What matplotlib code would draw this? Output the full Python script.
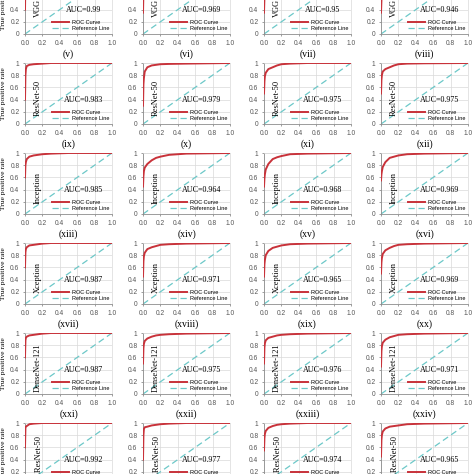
import numpy as np
import matplotlib
matplotlib.use("Agg")
import matplotlib.pyplot as plt

# --- data ---
models = ["VGG", "ResNet-50", "Inception", "Xception", "DenseNet-121", "SEResNet-50"]
captions = [
    ["(v)", "(vi)", "(vii)", "(viii)"],
    ["(ix)", "(x)", "(xi)", "(xii)"],
    ["(xiii)", "(xiv)", "(xv)", "(xvi)"],
    ["(xvii)", "(xviii)", "(xix)", "(xx)"],
    ["(xxi)", "(xxii)", "(xxiii)", "(xxiv)"],
    ["(xxv)", "(xxvi)", "(xxvii)", "(xxviii)"],
]
auc_vgg = [0.99, 0.969, 0.95, 0.946]
auc_resnet = [0.983, 0.979, 0.975, 0.975]
auc_inception = [0.985, 0.964, 0.968, 0.969]
auc_xception = [0.987, 0.971, 0.965, 0.969]
auc_densenet = [0.987, 0.975, 0.976, 0.971]
auc_seresnet = [0.992, 0.977, 0.974, 0.965]

# shared false positive rate grid, tpr per panel
fpr_pts = [0, 0.005, 0.01, 0.02, 0.05, 0.1, 0.15, 0.2, 0.3, 0.5, 1.0]
tpr_vgg = [
    [0.40, 0.90, 0.95, 0.97, 0.98, 0.99, 0.995, 1.0, 1.0, 1.0, 1.0],
    [0.35, 0.70, 0.80, 0.88, 0.92, 0.95, 0.97, 0.98, 0.99, 1.0, 1.0],
    [0.35, 0.60, 0.70, 0.80, 0.87, 0.91, 0.94, 0.96, 0.98, 0.99, 1.0],
    [0.35, 0.55, 0.68, 0.78, 0.86, 0.90, 0.93, 0.95, 0.97, 0.99, 1.0],
]
tpr_resnet = [
    [0.40, 0.80, 0.90, 0.95, 0.97, 0.98, 0.985, 0.99, 1.0, 1.0, 1.0],
    [0.30, 0.65, 0.75, 0.86, 0.93, 0.96, 0.97, 0.98, 0.985, 0.99, 1.0],
    [0.50, 0.70, 0.78, 0.84, 0.90, 0.93, 0.96, 0.98, 0.99, 1.0, 1.0],
    [0.50, 0.72, 0.80, 0.86, 0.90, 0.93, 0.96, 0.98, 0.99, 0.995, 1.0],
]
tpr_inception = [
    [0.60, 0.80, 0.85, 0.90, 0.94, 0.96, 0.97, 0.98, 0.99, 1.0, 1.0],
    [0.45, 0.62, 0.70, 0.76, 0.82, 0.88, 0.92, 0.94, 0.97, 0.99, 1.0],
    [0.45, 0.58, 0.65, 0.73, 0.82, 0.90, 0.93, 0.95, 0.98, 0.99, 1.0],
    [0.55, 0.65, 0.70, 0.77, 0.85, 0.92, 0.94, 0.96, 0.98, 0.99, 1.0],
]
tpr_xception = [
    [0.60, 0.85, 0.90, 0.93, 0.96, 0.97, 0.98, 0.99, 1.0, 1.0, 1.0],
    [0.45, 0.70, 0.78, 0.84, 0.90, 0.93, 0.95, 0.97, 0.98, 0.99, 1.0],
    [0.45, 0.65, 0.72, 0.80, 0.87, 0.92, 0.94, 0.96, 0.98, 0.99, 1.0],
    [0.50, 0.68, 0.75, 0.82, 0.88, 0.92, 0.95, 0.97, 0.98, 0.99, 1.0],
]
tpr_densenet = [
    [0.60, 0.88, 0.92, 0.94, 0.96, 0.97, 0.98, 0.99, 1.0, 1.0, 1.0],
    [0.50, 0.75, 0.82, 0.87, 0.91, 0.94, 0.96, 0.97, 0.98, 0.99, 1.0],
    [0.50, 0.76, 0.83, 0.88, 0.92, 0.94, 0.96, 0.97, 0.98, 0.99, 1.0],
    [0.45, 0.70, 0.78, 0.84, 0.89, 0.93, 0.95, 0.97, 0.98, 0.99, 1.0],
]
tpr_seresnet = [
    [0.60, 0.92, 0.94, 0.95, 0.98, 0.99, 0.995, 1.0, 1.0, 1.0, 1.0],
    [0.40, 0.80, 0.90, 0.93, 0.94, 0.96, 0.97, 0.98, 0.99, 1.0, 1.0],
    [0.55, 0.75, 0.82, 0.87, 0.92, 0.95, 0.97, 0.98, 0.99, 1.0, 1.0],
    [0.45, 0.72, 0.80, 0.86, 0.91, 0.94, 0.95, 0.96, 0.98, 0.99, 1.0],
]

aucs = [auc_vgg, auc_resnet, auc_inception, auc_xception, auc_densenet, auc_seresnet]
tprs = [tpr_vgg, tpr_resnet, tpr_inception, tpr_xception, tpr_densenet, tpr_seresnet]

RED = "#c8323a"
TEAL = "#6cc8c8"
SERIF = ["Liberation Serif", "DejaVu Serif"]
SANS = ["Liberation Sans", "DejaVu Sans"]

W = 474
fig = plt.figure(figsize=(4.74, 4.74), dpi=100)

col_left = [25, 143, 264, 381]
row_top = [-27, 63, 153, 243, 333, 423]
aw, ah = 87, 61

for r in range(6):
    for c in range(4):
        x0, y0 = col_left[c], row_top[r]
        ax = fig.add_axes([x0 / W, 1 - (y0 + ah) / W, aw / W, ah / W])
        ax.plot(fpr_pts, tprs[r][c], color=RED, lw=1.4, label="ROC Curve", zorder=3)
        ax.plot([0, 1], [0, 1], color=TEAL, lw=0.9, ls=(0, (5, 3)),
                label="Reference Line", zorder=2)
        ax.set_xlim(0, 1)
        ax.set_ylim(0, 1)
        ax.set_xticks(np.arange(0, 1.01, 0.2))
        ax.set_yticks(np.arange(0, 1.01, 0.2))
        ax.set_xticklabels(["0.0", "0.2", "0.4", "0.6", "0.8", "1.0"])
        ax.set_yticklabels(["0", "0.2", "0.4", "0.6", "0.8", "1"])
        ax.tick_params(labelsize=4.8, colors="#555555", length=1.5, width=0.4, pad=2.5)
        for lab in ax.get_xticklabels() + ax.get_yticklabels():
            lab.set_family(SANS)
        ax.grid(True, color="#d9d9d9", lw=0.5)
        ax.set_axisbelow(True)
        for side in ["top", "right"]:
            ax.spines[side].set_color("#d9d9d9")
            ax.spines[side].set_linewidth(0.5)
        for side in ["left", "bottom"]:
            ax.spines[side].set_color("#8c8c8c")
            ax.spines[side].set_linewidth(0.6)

        ax.text(0.15, 0.43, models[r], rotation=90, ha="center", va="center",
                transform=ax.transAxes, fontsize=6.0, family=SERIF)
        ax.text(0.67, 0.39, "AUC=%s" % aucs[r][c], ha="center", va="center",
                transform=ax.transAxes, fontsize=5.8, family=SERIF)
        ax.legend(loc="lower right", frameon=False,
                  handlelength=3.0, handletextpad=0.5, labelspacing=0.2,
                  borderaxespad=0.15, prop={"family": SANS, "size": 4.0})
        ax.text(0.5, -0.33, captions[r][c], ha="center", va="center",
                transform=ax.transAxes, fontsize=7, family=SERIF)
        if c == 0:
            ax.set_ylabel("True positive rate", fontsize=5.4, family=SERIF, labelpad=3)

fig.savefig("out.png", dpi=100)
